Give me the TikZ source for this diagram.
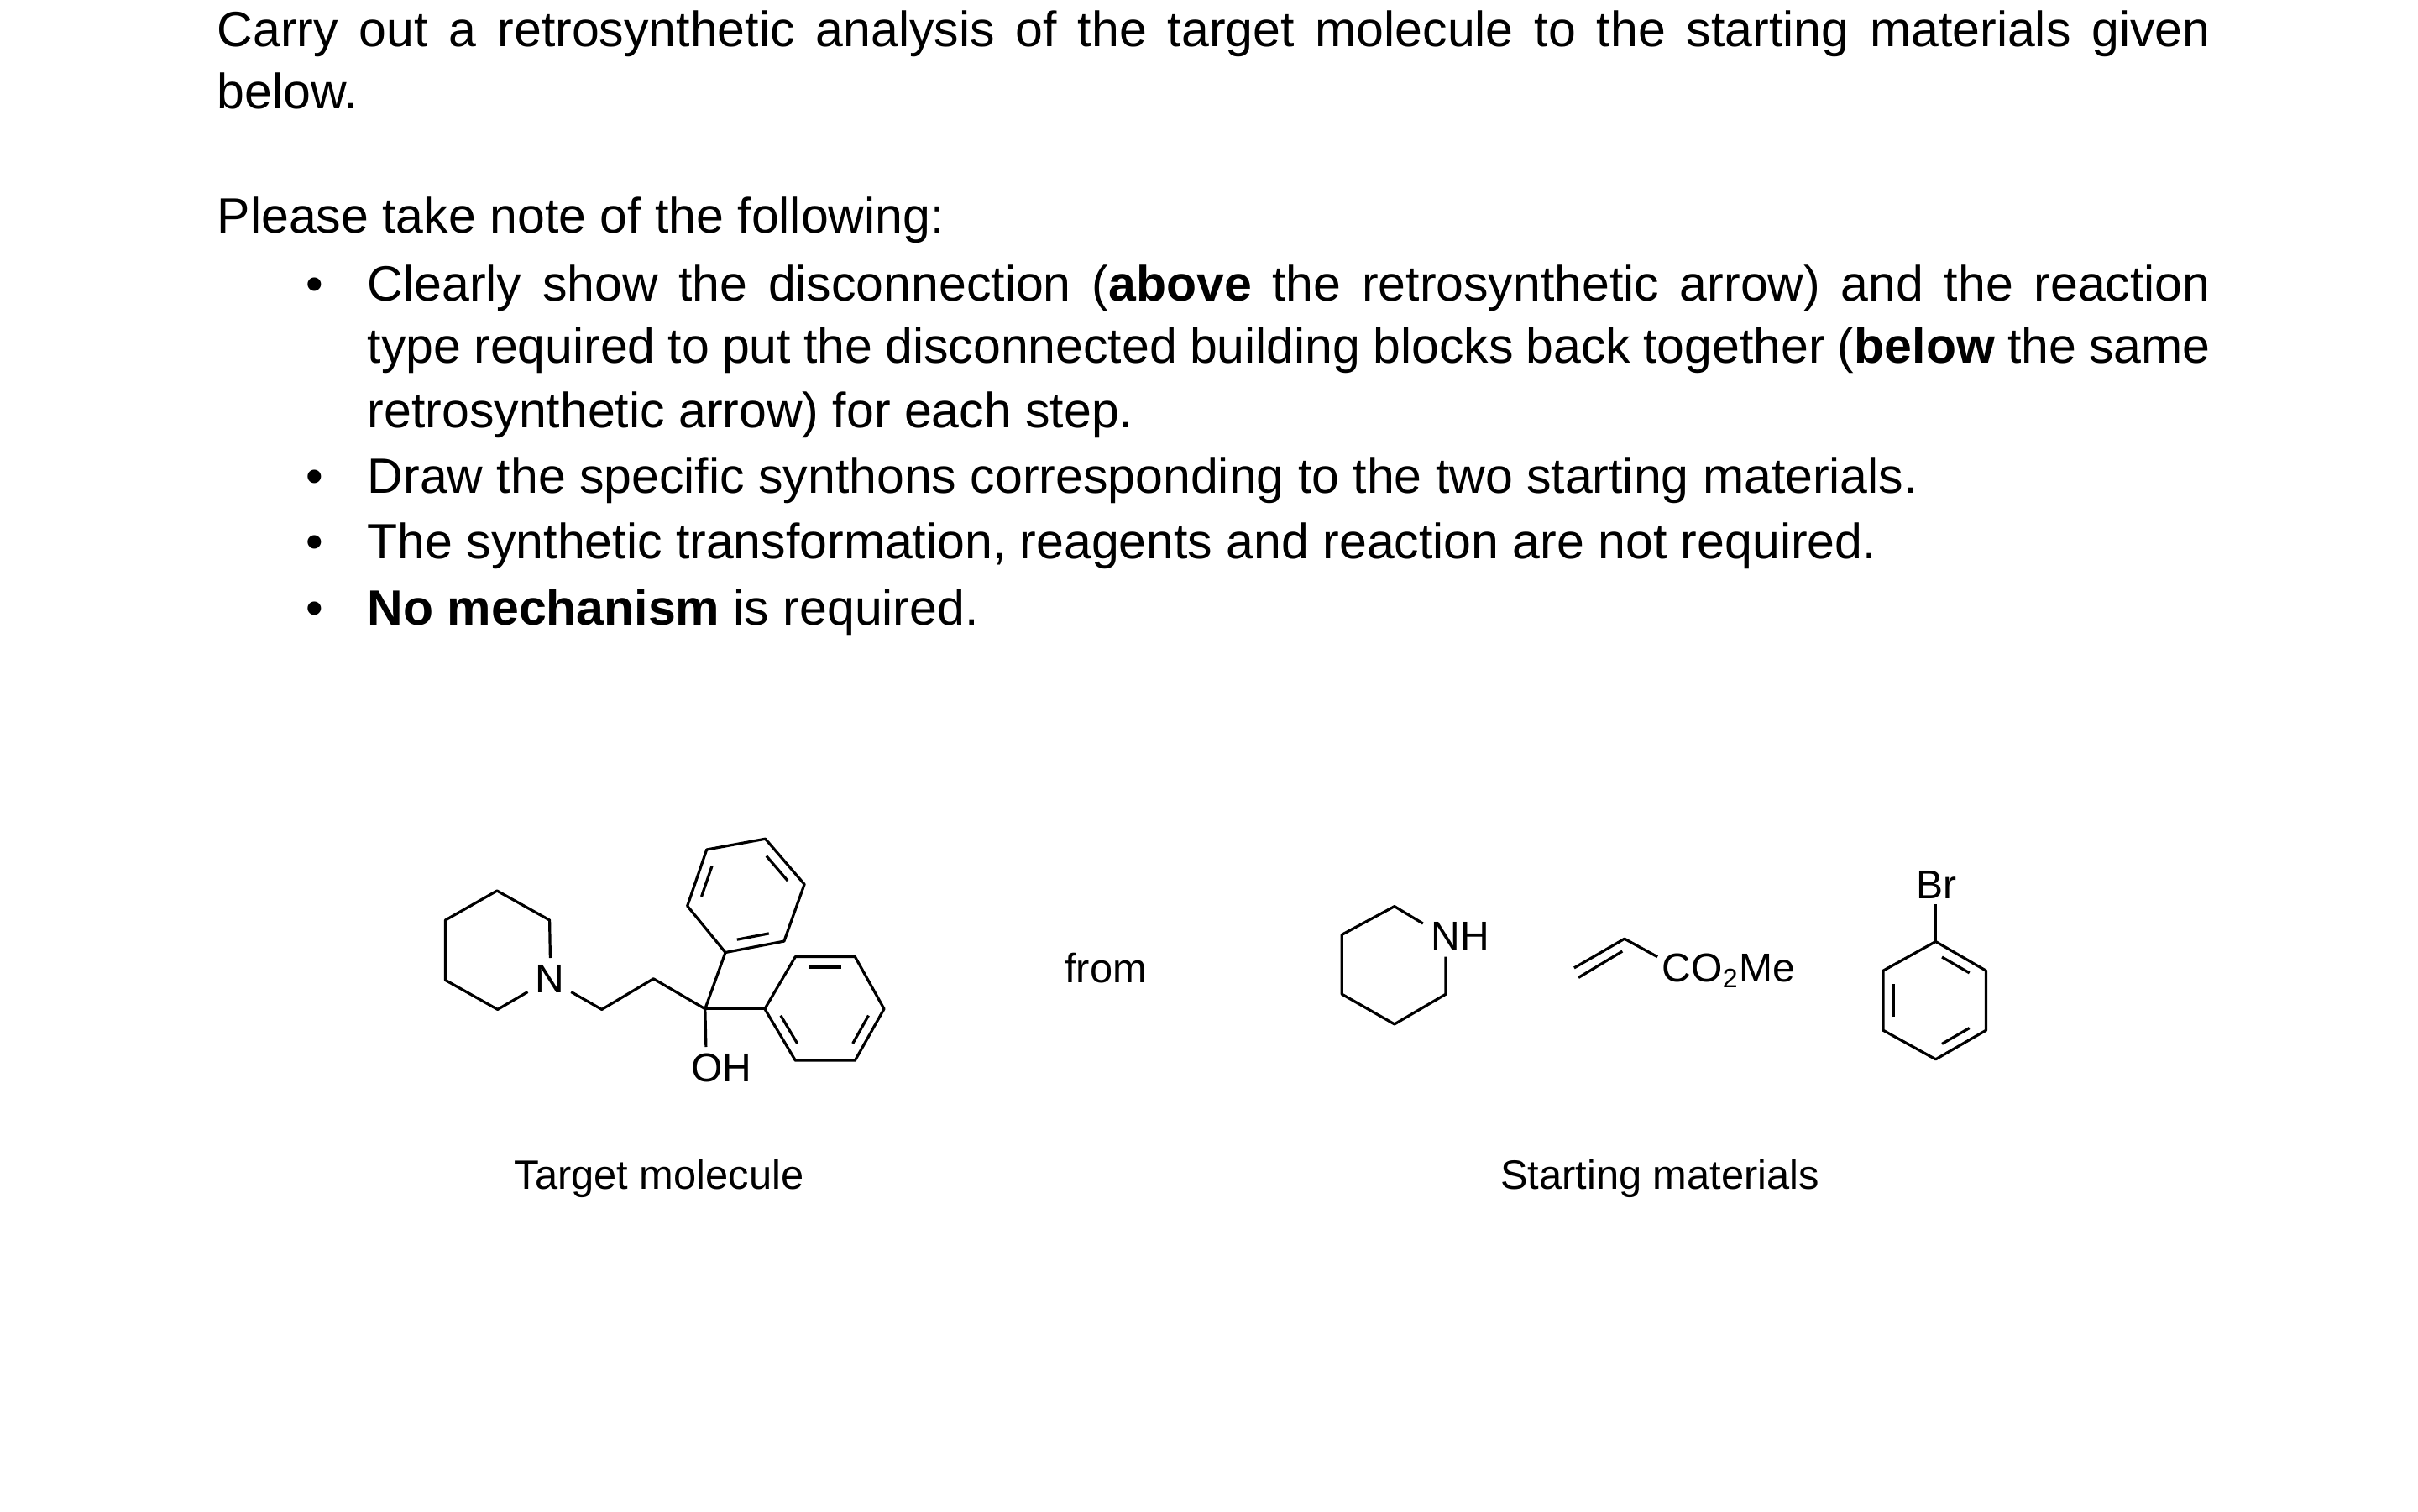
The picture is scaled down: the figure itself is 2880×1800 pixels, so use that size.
\documentclass[tikz,border=0pt]{standalone}
\usepackage{fontspec}
\setmainfont{Liberation Sans}
\usetikzlibrary{calc}
\newcommand{\ib}[3]{\draw[bond] ($($(#1)!0.16!(#2)$)!0.2!(#3)$) -- ($($(#2)!0.16!(#1)$)!0.2!(#3)$);}
\begin{document}
\begin{tikzpicture}[x=0.25pt,y=-0.25pt,
  txt/.style={anchor=base west,inner sep=0,font=\fontsize{14.75}{18}\selectfont},
  bul/.style={anchor=base,inner sep=0,font=\fontsize{14.75}{18}\selectfont},
  lab/.style={inner sep=0,font=\fontsize{12.2}{14}\selectfont},
  atom/.style={inner sep=0,font=\fontsize{12}{14}\selectfont},
  bond/.style={line width=0.8pt,line join=round}]
\useasboundingbox (0,0) rectangle (2880,1800);
% text
\node[txt] (l1) at (258,55) {\makebox[593.5pt][s]{Carry out a retrosynthetic analysis of the target molecule to the starting materials given}};
\node[txt] (l2) at (258,129) {below.};
\node[txt] (l3) at (258,277) {Please take note of the following:};
\node[bul] (b1) at (375,358) {•};
\node[bul] (b2) at (375,587) {•};
\node[bul] (b3) at (375,665) {•};
\node[bul] (b4) at (375,744) {•};
\node[txt] (t1) at (437,358) {\makebox[548.7pt][s]{Clearly show the disconnection (\textbf{above} the retrosynthetic arrow) and the reaction}};
\node[txt] (t2) at (437,432) {\makebox[548.7pt][s]{type required to put the disconnected building blocks back together (\textbf{below} the same}};
\node[txt] (t3) at (437,509) {retrosynthetic arrow) for each step.};
\node[txt] (t4) at (437,587) {Draw the specific synthons corresponding to the two starting materials.};
\node[txt] (t5) at (437,665) {The synthetic transformation, reagents and reaction are not required.};
\node[txt] (t6) at (437,744) {\textbf{No mechanism} is required.};
\begin{scope}[shift={(-3,-5)}]
% target molecule
\node[atom] (N) at (658,1171) {N};
\node[atom] (OH) at (862,1277) {OH};
\coordinate (p1) at (595,1066); \coordinate (p2) at (657.6,1101);
\coordinate (p3) at (533.5,1101); \coordinate (p4) at (533.5,1172.4); \coordinate (p5) at (595.7,1207.4);
\coordinate (nb1) at (631.5,1186.5); \coordinate (nb2) at (683.3,1186.5); \coordinate (nt) at (658.4,1146);
\draw[bond] (nt) -- (p2) -- (p1) -- (p3) -- (p4) -- (p5) -- (nb1);
\coordinate (c1) at (719.8,1207.4); \coordinate (c2) at (781.3,1170.8); \coordinate (C) at (842.8,1206.7);
\coordinate (o1) at (843.9,1252);
\draw[bond] (nb2) -- (c1) -- (c2) -- (C) -- (o1);
% upper phenyl
\coordinate (u1) at (867,1139.5); \coordinate (u2) at (936.9,1126.1); \coordinate (u3) at (961.1,1058.3);
\coordinate (u4) at (914.6,1004.2); \coordinate (u5) at (844.7,1017); \coordinate (u6) at (821.7,1084.1);
\coordinate (uc) at (891,1071.5);
\draw[bond] (C) -- (u1);
\draw[bond] (u1) -- (u2) -- (u3) -- (u4) -- (u5) -- (u6) -- cycle;
\ib{u1}{u2}{uc} \ib{u3}{u4}{uc} \ib{u5}{u6}{uc}
% right phenyl
\coordinate (r1) at (913.9,1206.7); \coordinate (r2) at (950.3,1144.6); \coordinate (r3) at (1021.4,1144.6);
\coordinate (r4) at (1056,1206.7); \coordinate (r5) at (1021.4,1268.1); \coordinate (r6) at (950.3,1268.1);
\coordinate (rc) at (985.5,1206.7);
\draw[bond] (C) -- (r1);
\draw[bond] (r1) -- (r2) -- (r3) -- (r4) -- (r5) -- (r6) -- cycle;
\ib{r2}{r3}{rc} \ib{r4}{r5}{rc} \ib{r6}{r1}{rc}
\end{scope}
\node[lab] (tm) at (785,1404) {Target molecule};
\node[lab] (from) at (1317,1153) {from};
\begin{scope}[shift={(-4,-4)}]
% piperidine NH
\node[atom] (NH) at (1743,1119) {NH};
\coordinate (q1) at (1664.9,1083.6); \coordinate (q2) at (1698.9,1104.1);
\coordinate (q3) at (1726,1143.7); \coordinate (q4) at (1726,1188.2); \coordinate (q5) at (1664.9,1223.9);
\coordinate (q6) at (1602.3,1188.2); \coordinate (q7) at (1602.3,1117.3);
\draw[bond] (q2) -- (q1) -- (q7) -- (q6) -- (q5) -- (q4) -- (q3);
% methyl acrylate
\coordinate (a1) at (1878.9,1156.9); \coordinate (a2) at (1938.9,1122.2); \coordinate (a3) at (1978.1,1143.7);
\coordinate (a4) at (1884.1,1168.4); \coordinate (a5) at (1936.3,1137.1);
\draw[bond] (a1) -- (a2) -- (a3);
\draw[bond] (a4) -- (a5);
\node[atom,anchor=west] (est) at (1983,1160) {CO\textsubscript{2}Me};
% bromobenzene
\node[atom] (Br) at (2310,1058) {Br};
\coordinate (s0) at (2309.5,1081);
\coordinate (s1) at (2309.5,1125.5); \coordinate (s2) at (2369.5,1160.2); \coordinate (s3) at (2369.5,1231.2);
\coordinate (s4) at (2309.5,1265.8); \coordinate (s5) at (2247,1231.2); \coordinate (s6) at (2247,1160.2);
\coordinate (sc) at (2308.7,1195.7);
\draw[bond] (s0) -- (s1);
\draw[bond] (s1) -- (s2) -- (s3) -- (s4) -- (s5) -- (s6) -- cycle;
\ib{s1}{s2}{sc} \ib{s3}{s4}{sc} \ib{s5}{s6}{sc}
\end{scope}
\node[lab] (sm) at (1977,1404) {Starting materials};
\end{tikzpicture}
\end{document}
